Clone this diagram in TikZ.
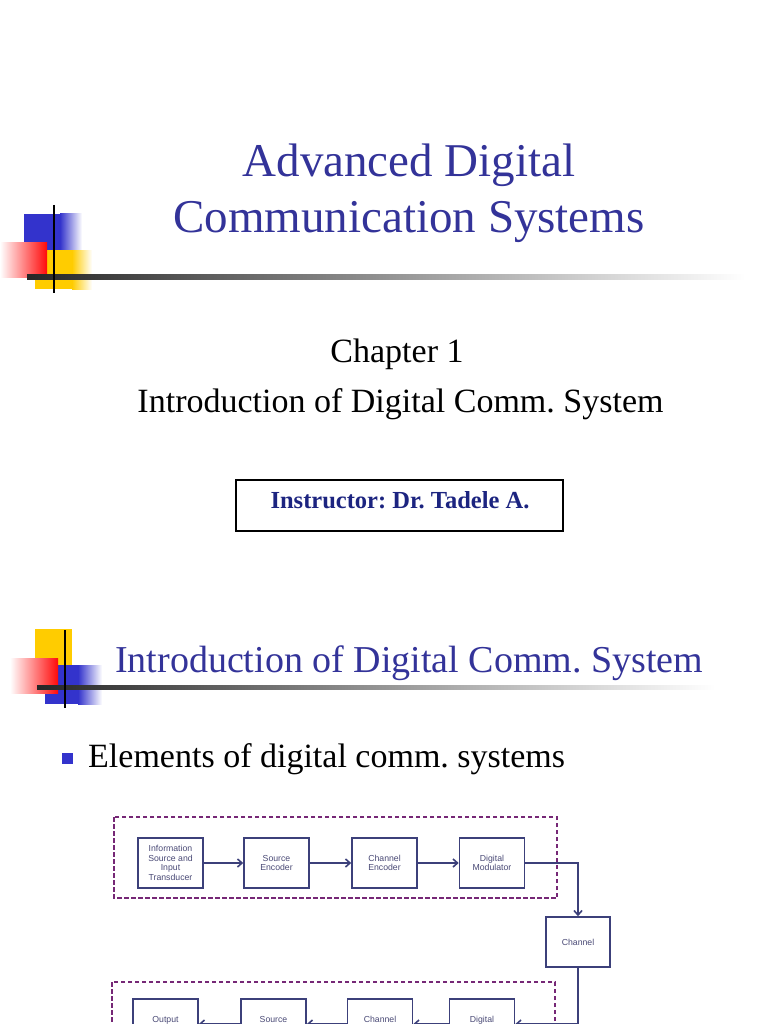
\documentclass[tikz,border=0pt]{standalone}
\usepackage{fontspec}
\setmainfont{Liberation Serif}
\newfontfamily\arialf{Liberation Sans}
\usetikzlibrary{arrows.meta}
\definecolor{titleblue}{RGB}{51,51,153}
\definecolor{instblue}{RGB}{28,36,128}
\definecolor{boxline}{RGB}{60,64,122}
\definecolor{boxtext}{RGB}{74,74,118}
\definecolor{dashpurple}{RGB}{118,40,118}
\definecolor{lblue}{RGB}{51,51,204}
\definecolor{lyellow}{RGB}{255,204,0}
\definecolor{lred}{RGB}{255,10,10}
\tikzset{
  blk/.style={draw=boxline, line width=1.6pt, minimum width=65pt, minimum height=50pt,
    inner sep=0pt, font=\arialf\fontsize{8.7}{9.6}\selectfont, text=boxtext, align=center},
  conn/.style={draw=boxline, line width=1.6pt, -{Straight Barb[length=4.5pt,width=8pt]}},
  dashbox/.style={draw=dashpurple, line width=1.6pt, dash pattern=on 4.5pt off 2.5pt},
  vbar/.style={draw=black, line width=2pt},
}
\begin{document}
\frenchspacing
\begin{tikzpicture}[x=1pt,y=-1pt]
\path[use as bounding box] (0,0) rectangle (768,1024);
\clip (0,0) rectangle (768,1024);
\fill[white] (0,0) rectangle (768,1024);

% ---- logo 1
\fill[lblue] (24,214) rectangle (60,250);
\shade[left color=lblue, right color=white] (60,214) rectangle (82,250);
\fill[lyellow] (35,250) rectangle (72,289);
\shade[left color=lyellow, right color=white] (72,250) rectangle (92,289);
\shade[left color=white, right color=lred] (0,242) rectangle (47,277);
\shade[left color=black!85, right color=white] (27,274) rectangle (745,279);
\draw[vbar] (54,205) -- (54,293);

% ---- logo 2
\fill[lyellow] (35,629) rectangle (72,668);
\fill[lblue] (45,665) rectangle (78,704);
\shade[left color=lblue, right color=white] (78,665) rectangle (102,704);
\shade[left color=white, right color=lred] (10,658) rectangle (58,693);
\shade[left color=black!85, right color=white] (37,685) rectangle (715,689);
\draw[vbar] (65,630) -- (65,708);

% ---- titles
\node[anchor=base, inner sep=0, font=\fontsize{47}{50}\selectfont, text=titleblue] (t1) at (409,177) {Advanced Digital};
\node[anchor=base, inner sep=0, font=\fontsize{47}{50}\selectfont, text=titleblue] (t2) at (409,233) {Communication Systems};
\node[anchor=base, inner sep=0, font=\fontsize{34}{36}\selectfont] (chap) at (397,362) {Chapter 1};
\node[anchor=base, inner sep=0, font=\fontsize{34}{36}\selectfont] (intro) at (400.5,412) {Introduction of Digital Comm. System};
\node[draw=black, line width=1.3pt, minimum width=327pt, minimum height=51pt, inner sep=0] (ibox) at (399.5,505.5) {};
\node[anchor=base, inner sep=0, font=\bfseries\fontsize{24.5}{26}\selectfont, text=instblue] (itext) at (400,508) {Instructor: Dr. Tadele A.};

\node[anchor=base west, inner sep=0, font=\fontsize{38}{40}\selectfont, text=titleblue] (t3) at (115,672) {Introduction of Digital Comm. System};
\node[fill=lblue, minimum size=11pt, inner sep=0] (bul) at (67.5,758) {};
\node[anchor=base west, inner sep=0, font=\fontsize{34}{36}\selectfont] (elem) at (88,767) {Elements of digital comm. systems};

% ---- block diagram
\draw[dashbox] (114,817) rectangle (557,898);
\draw[dashbox] (112,982) rectangle (555,1060);

\node[blk] (info) at (170.5,863) {Information\\Source and\\Input\\Transducer};
\node[blk] (srcenc) at (276.5,863) {Source\\Encoder};
\node[blk] (chenc) at (384.5,863) {Channel\\Encoder};
\node[blk] (digmod) at (492,863) {Digital\\Modulator};
\node[blk, minimum width=64pt] (chan) at (578,942) {Channel};

\node[blk] (output) at (165.5,1024) {Output\\Transducer};
\node[blk] (srcdec) at (273.5,1024) {Source\\Decoder};
\node[blk] (chdec) at (380,1024) {Channel\\Decoder};
\node[blk] (digdem) at (482,1024) {Digital\\Demodulator};

\draw[conn] (info) -- (srcenc);
\draw[conn] (srcenc) -- (chenc);
\draw[conn] (chenc) -- (digmod);
\draw[conn] (digmod.east) -| (chan.north);
\draw[conn] (chan.south) |- (digdem.east);
\draw[conn] (digdem) -- (chdec);
\draw[conn] (chdec) -- (srcdec);
\draw[conn] (srcdec) -- (output);
\end{tikzpicture}
\end{document}
